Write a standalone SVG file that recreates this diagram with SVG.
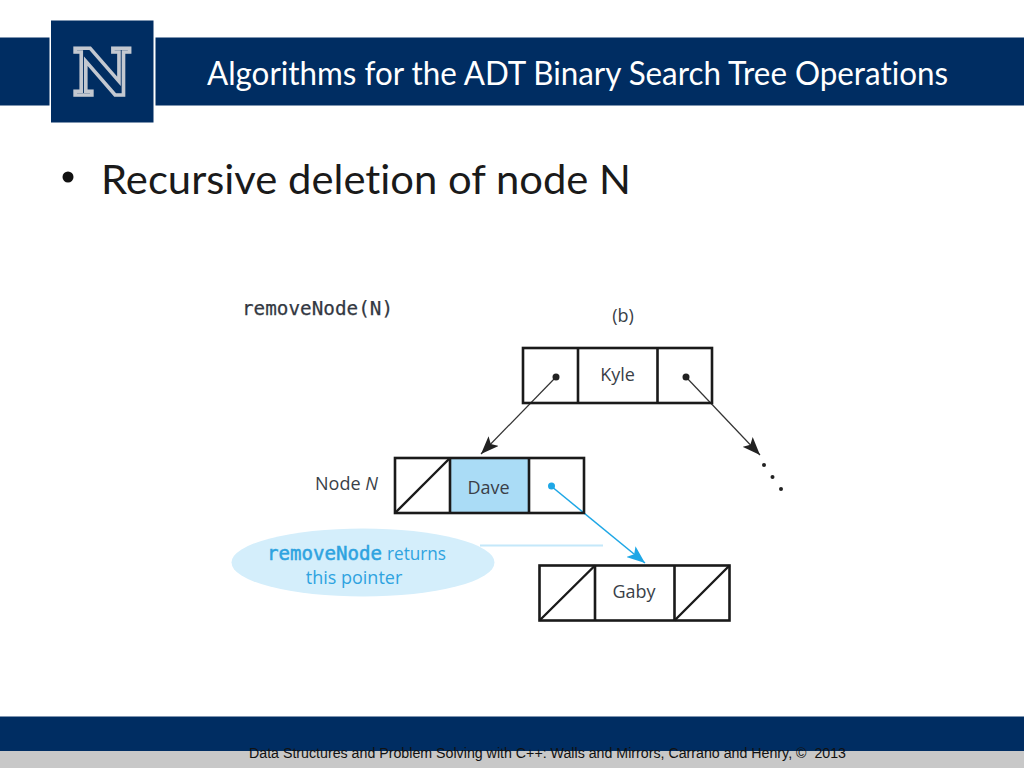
<svg xmlns="http://www.w3.org/2000/svg" width="1024" height="768" viewBox="0 0 1024 768">
<style>
text{font-variant-ligatures:none}
.navy{fill:#002d62}
.box{fill:none;stroke:#1a1a1a;stroke-width:2.6}
.slash{stroke:#1a1a1a;stroke-width:2.400;fill:none}
.lab{font-family:"Open Sans","Liberation Sans",sans-serif;font-size:18px;fill:#3a3f48}
.mono{font-family:"DejaVu Sans Mono","Liberation Mono",monospace}
</style>
<defs>
<marker id="ah" markerUnits="userSpaceOnUse" markerWidth="19" markerHeight="14" refX="18" refY="7" orient="auto"><path d="M0 0L18 7L0 14L4 7Z" fill="#222"/></marker>
<marker id="ab" markerUnits="userSpaceOnUse" markerWidth="19" markerHeight="14" refX="18" refY="7" orient="auto"><path d="M0 0L18 7L0 14L4 7Z" fill="#1ea7e6"/></marker>
</defs>
<rect width="1024" height="768" fill="#fff"/>
<g id="header">
<rect class="navy" x="0" y="37.5" width="49.5" height="68"/>
<rect class="navy" x="155.500" y="37.5" width="868.5" height="68"/>
<rect class="navy" x="51" y="20.500" width="102.500" height="102"/>
<text x="102.300" y="95" text-anchor="middle" font-family="DejaVu Serif" font-weight="bold" font-size="64" class="navy" stroke="#c3c8d0" stroke-width="3.500" textLength="60" lengthAdjust="spacingAndGlyphs">N</text>
<text x="207" y="85" font-family="Lato,'Open Sans',sans-serif" font-size="32.500" fill="#fff" textLength="741" lengthAdjust="spacingAndGlyphs">Algorithms for the ADT Binary Search Tree Operations</text>
</g>
<g id="bullet">
<circle cx="68" cy="177" r="5.500" fill="#111"/>
<text x="101" y="194" font-family="Lato,'Open Sans',sans-serif" font-size="41.500" fill="#1a1a1a" textLength="530" lengthAdjust="spacingAndGlyphs">Recursive deletion of node N</text>
</g>
<text id="call" x="242" y="315" class="mono" font-size="19.500" fill="#333842" stroke="#333842" stroke-width=".25" textLength="151" lengthAdjust="spacingAndGlyphs">removeNode(N)</text>
<text id="fig-label" x="623" y="322" text-anchor="middle" class="lab">(b)</text>
<g id="callout">
<ellipse cx="363" cy="562.500" rx="131.500" ry="34" fill="#d4eefb"/>
<rect x="480" y="544.500" width="123" height="2" fill="#c4e8fa"/>
<text x="267" y="560" font-size="18" fill="#2ea3e0"><tspan class="mono" font-size="19.500" stroke="#2ea3e0" stroke-width=".5" textLength="115" lengthAdjust="spacingAndGlyphs">removeNode</tspan><tspan font-family="Open Sans,sans-serif" dx="5" textLength="59" lengthAdjust="spacingAndGlyphs">returns</tspan></text>
<text x="354" y="584" text-anchor="middle" font-family="Open Sans,sans-serif" font-size="18" fill="#2ea3e0">this pointer</text>
</g>
<g id="connectors">
<line x1="556" y1="377" x2="481" y2="454" stroke="#333" stroke-width="1.200" marker-end="url(#ah)"/>
<line x1="686" y1="377" x2="760" y2="455" stroke="#333" stroke-width="1.200" marker-end="url(#ah)"/>
<line x1="551" y1="486" x2="645" y2="563" stroke="#1ea7e6" stroke-width="1.500" marker-end="url(#ab)"/>
<circle cx="556" cy="377" r="3.500" fill="#222"/>
<circle cx="686" cy="377" r="3.500" fill="#222"/>
<circle cx="551.500" cy="486" r="3.500" fill="#1ea7e6"/>
</g>
<g id="ellipsis" fill="#222">
<circle cx="764" cy="465" r="2"/><circle cx="772.500" cy="477" r="2"/><circle cx="781" cy="489" r="2"/>
</g>
<g id="node-kyle">
<rect class="box" x="523" y="348" width="189" height="55"/>
<path class="box" d="M578 348V403M657.500 348V403"/>
<text x="617.500" y="381" text-anchor="middle" class="lab">Kyle</text>
</g>
<g id="node-dave">
<rect x="450" y="458" width="79" height="55" fill="#aadcf6"/>
<rect class="box" x="395" y="458" width="189" height="55"/>
<path class="box" d="M450 458V513M529 458V513"/>
<path class="slash" d="M395 513L450 458"/>
<text x="488.500" y="494" text-anchor="middle" class="lab">Dave</text>
<text x="315" y="490" class="lab" font-size="17.500">Node <tspan font-style="italic">N</tspan></text>
</g>
<g id="node-gaby">
<rect class="box" x="539.500" y="565.500" width="190" height="55"/>
<path class="box" d="M595 565.500V620.500M674.500 565.500V620.500"/>
<path class="slash" d="M539.500 620.500L595 565.500M674.500 620.500L729.500 565.500"/>
<text x="634" y="598" text-anchor="middle" class="lab">Gaby</text>
</g>
<g id="footer">
<rect x="0" y="751" width="1024" height="17" fill="#c8c8c8"/>
<rect class="navy" x="0" y="716.500" width="1024" height="34.500"/>
<text x="249" y="758" font-family="Liberation Sans,sans-serif" font-size="14" fill="#111" textLength="597" lengthAdjust="spacingAndGlyphs">Data Structures and Problem Solving with C++: Walls and Mirrors, Carrano and Henry, ©&#160; 2013</text>
</g>
</svg>
